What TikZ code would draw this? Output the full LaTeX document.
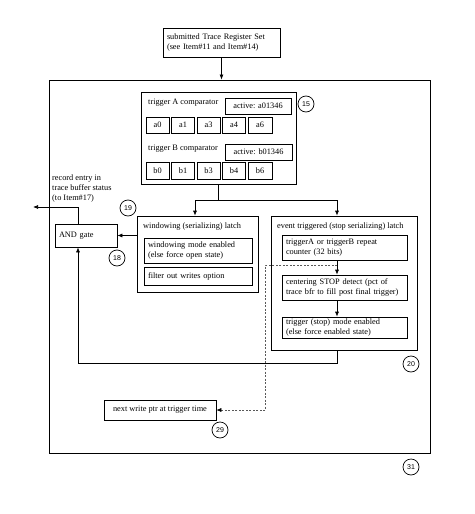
\documentclass[tikz,border=0pt]{standalone}
\usepackage{fontspec}
\setmainfont{Liberation Serif}
\setsansfont{Liberation Sans}
\usetikzlibrary{arrows.meta}
\tikzset{
  box/.style={draw, line width=0.7pt, inner sep=0pt, font=\fontsize{8.3}{9.6}\selectfont},
  tbox/.style={box, align=left, inner xsep=4pt},
  lbl/.style={inner sep=0pt, font=\fontsize{8.3}{9.6}\selectfont, align=left},
  circ/.style={draw, circle, line width=0.7pt, minimum size=16pt, inner sep=0pt, font=\fontsize{7}{7}\sffamily},
  arr/.style={line width=0.7pt, -{Latex[length=5pt,width=4pt]}},
  ln/.style={line width=0.7pt},
  dsh/.style={line width=0.5pt, black!65, dash pattern=on 2pt off 1.5pt, -{Latex[length=5pt,width=4pt,black]}}
}
\begin{document}
\begin{tikzpicture}[x=1pt,y=-1pt]
\useasboundingbox (0,0) rectangle (474,514);
% top
\node[tbox, minimum width=117pt, minimum height=29pt, text width=109pt] (top) at (221.5,42.5) {submitted Trace Register Set\\(see Item\#11 and Item\#14)};
% outer
\node[box, line width=0.9pt, minimum width=381pt, minimum height=373pt] (outer) at (239.5,266.5) {};
\draw[arr] (top.south) -- (outer.north -| top.south);
% comparator
\node[box, minimum width=155pt, minimum height=92pt] (comp) at (218.5,138) {};
\node[lbl, anchor=west] (ta) at (148,103) {trigger A comparator};
\node[box, minimum width=66pt, minimum height=16pt] (acta) at (258,106) {active: a01346};
\node[box, minimum width=23pt, minimum height=16pt] (a0) at (157.5,125) {a0};
\node[box, minimum width=23pt, minimum height=16pt] (a1) at (183,125) {a1};
\node[box, minimum width=23pt, minimum height=16pt] (a3) at (208.5,125) {a3};
\node[box, minimum width=23pt, minimum height=16pt] (a4) at (234,125) {a4};
\node[box, minimum width=24pt, minimum height=16pt] (a6) at (260,125) {a6};
\node[lbl, anchor=west] (tb) at (148,149) {trigger B comparator};
\node[box, minimum width=67pt, minimum height=16pt] (actb) at (258.5,152) {active: b01346};
\node[box, minimum width=23pt, minimum height=17pt] (b0) at (157.5,170.5) {b0};
\node[box, minimum width=23pt, minimum height=17pt] (b1) at (183,170.5) {b1};
\node[box, minimum width=23pt, minimum height=17pt] (b3) at (208.5,170.5) {b3};
\node[box, minimum width=23pt, minimum height=17pt] (b4) at (234,170.5) {b4};
\node[box, minimum width=24pt, minimum height=17pt] (b6) at (260,170.5) {b6};
\node[circ] (c15) at (306,104) {15};
% windowing latch
\node[box, minimum width=121pt, minimum height=76pt] (win) at (197.5,254) {};
\node[lbl, anchor=west] (wt) at (143,227) {windowing (serializing) latch};
\node[tbox, minimum width=108pt, minimum height=25pt, text width=100pt] (w1) at (198,250.5) {windowing mode enabled\\(else force open state)};
\node[tbox, minimum width=108pt, minimum height=18pt, text width=100pt] (w2) at (198,276) {filter out writes option};
% event latch
\node[box, minimum width=146pt, minimum height=134pt] (ev) at (344,283) {};
\node[lbl, anchor=west] (et) at (277,227) {event triggered (stop serializing) latch};
\node[tbox, minimum width=125pt, minimum height=25pt, text width=117pt] (e1) at (344.5,247.5) {triggerA or triggerB repeat\\counter (32 bits)};
\node[tbox, minimum width=125pt, minimum height=25pt, text width=117pt] (e2) at (344.5,287.5) {centering STOP detect (pct of\\trace bfr to fill post final trigger)};
\node[tbox, minimum width=125pt, minimum height=21pt, text width=117pt] (e3) at (344.5,327.5) {trigger (stop) mode enabled\\(else force enabled state)};
\node[circ] (c20) at (411,364) {20};
% AND gate
\node[tbox, minimum width=62pt, minimum height=23pt, text width=54pt] (and) at (86,235.5) {AND gate};
\node[lbl, anchor=north west] (rec) at (52,175) {record entry in\\trace buffer status\\(to Item\#17)};
\node[circ] (c19) at (128,208) {19};
\node[circ] (c18) at (117,258) {18};
% next write ptr
\node[box, minimum width=112pt, minimum height=20pt] (nwp) at (160,410) {next write ptr at trigger time};
\node[circ] (c29) at (220,430) {29};
\node[circ] (c31) at (411,467) {31};
% connectors
\coordinate (split) at (218.5,200);
\coordinate (wl) at (195,200);
\coordinate (el) at (337,200);
\draw[ln] (comp.south) -- (split);
\draw[ln] (wl) -- (el);
\draw[arr] (wl) -- (win.north -| wl);
\draw[arr] (el) -- (ev.north -| el);
\draw[arr] (e1.south -| el) -- (e2.north -| el);
\draw[arr] (e2.south -| el) -- (e3.north -| el);
\draw[arr] (win.west |- and.east) -- (and.east);
\coordinate (lp) at (78,363);
\draw[arr] (ev.south -| el) |- (lp) -- (and.south -| lp);
\coordinate (rc) at (78,207);
\coordinate (rt) at (33,207);
\draw[arr] (and.north -| lp) -- (rc) -- (rt);
\coordinate (d1) at (337,265);
\coordinate (d2) at (265,265);
\coordinate (d3) at (265,410);
\draw[dsh] (d1) -- (d2) -- (d3) -- (nwp.east);
\end{tikzpicture}
\end{document}
